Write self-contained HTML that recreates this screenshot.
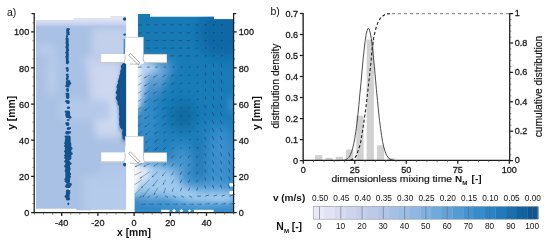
<!DOCTYPE html>
<html lang="en"><head><meta charset="utf-8"><title>Mixing figure</title>
<style>html,body{margin:0;padding:0;background:#fff;}body{width:550px;height:243px;overflow:hidden;}svg{display:block;}text{font-family:"Liberation Sans",Arial,sans-serif;fill:#111;}</style>
</head><body>
<svg width="550" height="243" viewBox="0 0 550 243">
<defs>
<filter id="b1" x="-20%" y="-20%" width="140%" height="140%"><feGaussianBlur stdDeviation="1"/></filter>
<filter id="b2" x="-30%" y="-30%" width="160%" height="160%"><feGaussianBlur stdDeviation="2"/></filter>
<filter id="b3" x="-30%" y="-30%" width="160%" height="160%"><feGaussianBlur stdDeviation="3.5"/></filter>
<filter id="b6" x="-40%" y="-40%" width="180%" height="180%"><feGaussianBlur stdDeviation="6"/></filter>
<clipPath id="cl"><path d="M36 20.3H74V18.6H110V16.3H126.2V209.6H91V210.2H76.4V208.7H36Z"/></clipPath>
<clipPath id="cr"><path d="M137.8 13.9H150V16.7H214V19.3H233.5V213H134.4V163H137.8Z"/></clipPath>
<linearGradient id="cb" x1="0" y1="0" x2="1" y2="0">
<stop offset="0" stop-color="#ececf8"/>
<stop offset="0.1" stop-color="#d8daf0"/>
<stop offset="0.2" stop-color="#c6cdea"/>
<stop offset="0.3" stop-color="#b2c4e6"/>
<stop offset="0.4" stop-color="#9cbde4"/>
<stop offset="0.5" stop-color="#7fb0de"/>
<stop offset="0.6" stop-color="#5ea1d6"/>
<stop offset="0.7" stop-color="#3f90ce"/>
<stop offset="0.8" stop-color="#2581c4"/>
<stop offset="0.9" stop-color="#146aa8"/>
<stop offset="1" stop-color="#0a4f86"/>
</linearGradient>
<linearGradient id="tg" gradientUnits="userSpaceOnUse" x1="0" y1="16" x2="0" y2="28"><stop offset="0" stop-color="#ececf8"/><stop offset="0.35" stop-color="#dcdff3"/><stop offset="0.75" stop-color="#c2cfeb"/><stop offset="1" stop-color="#a9c1e4" stop-opacity="0"/></linearGradient>
<linearGradient id="rg" x1="0" y1="0" x2="0" y2="1"><stop offset="0" stop-color="#167ab5"/><stop offset="0.5" stop-color="#187cb8"/><stop offset="0.75" stop-color="#2986c4"/><stop offset="1" stop-color="#358ecb"/></linearGradient>
</defs>
<rect width="550" height="243" fill="#fff"/>
<g clip-path="url(#cl)">
<rect x="30" y="10" width="100" height="205" fill="#a9c1e4"/>
<g filter="url(#b3)">
<path d="M84 56 L118 60 L116 100 L108 128 L96 120 L90 90Z" fill="#c4d0ec"/><path d="M88 64 L122 64 L120 100 L121 138 L96 138 L90 104Z" fill="#c8d3ed"/><path d="M94 68 L118 68 L116 100 L118 132 L100 132 L96 104Z" fill="#cdd7ef"/><rect x="92" y="28" width="36" height="28" fill="#c2d0ec"/>
<ellipse cx="111" cy="112" rx="8" ry="13" fill="#cfdbf2"/>
<ellipse cx="52" cy="75" rx="7" ry="22" fill="#b6cae9"/>
<ellipse cx="46" cy="50" rx="10" ry="6" fill="#b8cceb"/>
<rect x="84" y="176" width="50" height="40" fill="#b5cbeb"/>
<rect x="100" y="165" width="30" height="20" fill="#b2c9ea"/>
<rect x="60" y="100" width="50" height="20" fill="#b4c9ea"/>
</g>
<rect x="30" y="10" width="100" height="18" fill="url(#tg)"/>
<g filter="url(#b1)" fill="#6a9cd0" opacity="0.7">
<path d="M126.4 62 L121.5 64 L120 74 L116.6 86 L115.8 100 L118 110 L118.8 130 L121.5 133 L121.5 142 L126.4 143Z"/>
</g>
<g fill="#13528c">
<path d="M126.4 62 L123.7 63 L121.89999999999999 66 L121.89999999999999 70 L120.7 73 L120.5 76 L119.1 79 L119.3 82 L117.7 85 L117.89999999999999 88 L117.1 91 L117.7 94 L117.1 97 L117.5 100 L119.0 104 L119.8 108 L119.8 112 L120.0 116 L119.8 120 L120.0 124 L120.39999999999999 127 L123.39999999999999 129.5 L123.0 131 L122.8 134 L123.2 137 L125.2 140 L126.4 141Z" stroke="#13528c" stroke-width="1.2" stroke-linejoin="round"/>
<circle cx="122.3" cy="66.5" r="1.5"/>
<circle cx="121.89999999999999" cy="71" r="1.7"/>
<circle cx="120.89999999999999" cy="76" r="1.8"/>
<circle cx="119.7" cy="81.5" r="2.0"/>
<circle cx="118.5" cy="87" r="2.1"/>
<circle cx="117.89999999999999" cy="92.5" r="2.2"/>
<circle cx="117.89999999999999" cy="98" r="2.2"/>
<circle cx="119.39999999999999" cy="103.5" r="2.0"/>
<circle cx="120.39999999999999" cy="109" r="1.6"/>
<circle cx="120.39999999999999" cy="114" r="1.6"/>
<circle cx="120.6" cy="119" r="1.6"/>
<circle cx="120.8" cy="124" r="1.6"/>
<circle cx="122.3" cy="128" r="1.3"/>
<circle cx="123.8" cy="133.5" r="1.9"/>
<circle cx="124.2" cy="138" r="1.7"/>
<circle cx="124.6" cy="19" r="1.7"/><circle cx="124.6" cy="34.6" r="1.2"/><ellipse cx="124.6" cy="164.6" rx="1.5" ry="1.9"/>
<rect x="123.7" y="39" width="1.2" height="15" fill="#3d7bb9"/>
</g>
<g fill="#13528c">
<rect x="66.3" y="28.0" width="2.8" height="7.5" rx="1.4"/>
<circle cx="69.0" cy="29.2" r="0.9"/>
<circle cx="68.9" cy="32.2" r="0.8"/>
<circle cx="69.0" cy="34.3" r="0.9"/>
<rect x="65.9" y="35.0" width="1.8" height="3.0" rx="0.9"/>
<circle cx="67.4" cy="36.2" r="0.7"/>
<rect x="65.9" y="37.5" width="2.8" height="27.0" rx="1.4"/>
<circle cx="66.1" cy="38.7" r="0.8"/>
<circle cx="66.4" cy="41.2" r="0.8"/>
<circle cx="66.0" cy="43.1" r="0.7"/>
<circle cx="68.5" cy="45.0" r="0.7"/>
<circle cx="66.2" cy="47.1" r="0.9"/>
<circle cx="68.3" cy="49.9" r="0.9"/>
<circle cx="66.1" cy="52.6" r="0.9"/>
<circle cx="68.4" cy="54.8" r="0.6"/>
<circle cx="66.1" cy="56.8" r="0.9"/>
<circle cx="66.5" cy="60.1" r="0.7"/>
<circle cx="68.3" cy="62.0" r="1.0"/>
<rect x="66.3" y="67.0" width="2.2" height="5.0" rx="1.1"/>
<circle cx="66.5" cy="68.2" r="0.9"/>
<circle cx="68.1" cy="70.1" r="0.6"/>
<rect x="66.3" y="73.5" width="2.2" height="6.5" rx="1.1"/>
<circle cx="66.4" cy="74.7" r="0.7"/>
<circle cx="68.2" cy="76.6" r="0.7"/>
<circle cx="66.8" cy="79.1" r="1.0"/>
<rect x="65.9" y="80.0" width="3.8" height="7.5" rx="1.6"/>
<circle cx="69.4" cy="81.2" r="1.0"/>
<circle cx="69.7" cy="83.3" r="1.5"/>
<circle cx="66.1" cy="86.1" r="1.0"/>
<rect x="66.3" y="88.0" width="2.6" height="4.0" rx="1.3"/>
<circle cx="66.4" cy="89.2" r="0.6"/>
<rect x="66.1" y="92.5" width="3.2" height="6.5" rx="1.6"/>
<circle cx="66.3" cy="93.7" r="0.9"/>
<circle cx="66.2" cy="96.0" r="0.6"/>
<rect x="66.3" y="100.0" width="3.4" height="4.0" rx="1.6"/>
<circle cx="66.5" cy="101.2" r="1.3"/>
<rect x="66.8" y="106.5" width="2.9" height="2.5" rx="1.4"/>
<circle cx="69.2" cy="107.7" r="0.9"/>
<rect x="65.7" y="110.5" width="4.4" height="7.5" rx="1.6"/>
<circle cx="65.8" cy="111.7" r="1.1"/>
<circle cx="66.1" cy="114.5" r="1.0"/>
<circle cx="69.9" cy="117.2" r="1.5"/>
<rect x="66.8" y="119.0" width="2.9" height="2.0" rx="1.4"/>
<rect x="65.9" y="122.0" width="3.4" height="4.0" rx="1.6"/>
<circle cx="66.2" cy="123.2" r="1.0"/>
<rect x="66.7" y="127.0" width="3.4" height="3.0" rx="1.6"/>
<circle cx="70.0" cy="128.2" r="1.1"/>
<rect x="65.3" y="131.0" width="4.4" height="3.5" rx="1.6"/>
<circle cx="69.7" cy="132.2" r="1.3"/>
<rect x="65.3" y="135.5" width="5.4" height="8.5" rx="1.6"/>
<circle cx="65.6" cy="136.7" r="1.1"/>
<circle cx="65.9" cy="139.9" r="1.1"/>
<circle cx="65.5" cy="142.0" r="0.9"/>
<rect x="64.9" y="142.0" width="6.4" height="18.0" rx="1.6"/>
<circle cx="65.1" cy="143.2" r="1.0"/>
<circle cx="65.0" cy="145.9" r="1.0"/>
<circle cx="71.1" cy="148.4" r="1.4"/>
<circle cx="65.5" cy="151.2" r="1.3"/>
<circle cx="71.3" cy="153.7" r="1.4"/>
<circle cx="65.3" cy="155.6" r="1.2"/>
<circle cx="65.2" cy="157.9" r="1.0"/>
<rect x="65.3" y="160.0" width="4.8" height="23.0" rx="1.6"/>
<circle cx="65.8" cy="161.2" r="1.5"/>
<circle cx="70.0" cy="163.6" r="1.5"/>
<circle cx="65.6" cy="166.0" r="1.5"/>
<circle cx="69.5" cy="168.8" r="1.2"/>
<circle cx="65.9" cy="170.7" r="1.3"/>
<circle cx="69.9" cy="174.0" r="1.2"/>
<circle cx="69.8" cy="176.7" r="1.2"/>
<circle cx="65.4" cy="179.3" r="1.1"/>
<circle cx="65.7" cy="181.1" r="1.2"/>
<rect x="65.9" y="183.0" width="4.8" height="5.0" rx="1.6"/>
<circle cx="70.3" cy="184.2" r="1.5"/>
<circle cx="66.4" cy="186.2" r="1.3"/>
<rect x="65.9" y="189.5" width="3.8" height="11.0" rx="1.6"/>
<circle cx="69.2" cy="190.7" r="1.2"/>
<circle cx="69.4" cy="193.1" r="1.0"/>
<circle cx="66.1" cy="196.2" r="1.5"/>
<circle cx="69.2" cy="199.0" r="1.0"/>
<rect x="67.7" y="202.6" width="1.4" height="2.4" rx="0.7"/>
<circle cx="68.3" cy="203.8" r="0.9"/>
</g>
<rect x="69" y="188" width="1.2" height="2.2" fill="#dfe8f7"/>
</g>
<g clip-path="url(#cr)">
<rect x="130" y="10" width="105" height="205" fill="url(#rg)"/>
<g filter="url(#b6)">
<ellipse cx="183" cy="116" rx="12" ry="15" fill="#106a9e"/>
<ellipse cx="183" cy="116" rx="9" ry="10" fill="#106ba2"/>
<ellipse cx="182" cy="165" rx="9" ry="18" fill="#4698d2"/>
<ellipse cx="222" cy="34" rx="24" ry="24" fill="#0c68a4"/>
<ellipse cx="220" cy="160" rx="13" ry="34" fill="#3a90ce"/>
<ellipse cx="198" cy="158" rx="3" ry="26" fill="#106ca6"/>
<path d="M134 62 L174 62 L162 86 L150 108 L134 128Z" fill="#6fa9dc"/>
<ellipse cx="137" cy="88" rx="8" ry="24" fill="#cfe2f6"/>
<ellipse cx="146" cy="112" rx="11" ry="40" fill="#368cca"/>
<ellipse cx="152" cy="180" rx="27" ry="17" fill="#9cc8ec"/>
<ellipse cx="200" cy="195" rx="40" ry="10" fill="#67a8de"/>
<ellipse cx="148" cy="205" rx="14" ry="5" fill="#2f86c8"/>
</g>
<g filter="url(#b3)">
<path d="M130 164 L150 165 C166 174 180 186 200 192 L234 193 L234 202 L196 202 C176 200 158 190 130 185Z" fill="#9ecaee"/>
<ellipse cx="139" cy="173" rx="10" ry="9" fill="#e3edfa"/>
<path d="M132 60 L150 60 L147 80 L143 100 L132 118Z" fill="#bfd8f2" opacity="0.7"/>
<rect x="131" y="164" width="5.5" height="30" fill="#eef3fc"/>
<ellipse cx="222" cy="198" rx="12" ry="3" fill="#aed2f1"/>
<ellipse cx="146" cy="68" rx="12" ry="5" fill="#bcd6f1"/>
<ellipse cx="232" cy="105" rx="3" ry="8" fill="#4c98d6"/>
</g>
<g filter="url(#b2)"><path d="M128 58 L140.5 58 L140.5 78 L139.5 96 L138 108 L128 110Z" fill="#ffffff" opacity="0.75"/><path d="M126 162 L137.5 162 L136.5 184 L135 194 L126 196Z" fill="#ffffff" opacity="0.85"/></g>
<g fill="#fff"><rect x="161.3" y="209.8" width="8.3" height="3"/><rect x="194" y="209.8" width="19.6" height="3"/>
<path d="M174 208.9l2 1.9-2 1.9-2-1.9zM181.3 208.9l2 1.9-2 1.9-2-1.9zM189.5 209.3l1.5 1.5-1.5 1.5-1.5-1.5z"/>
<rect x="229.3" y="183.3" width="5" height="3.1" rx="0.8"/><rect x="229.3" y="191" width="5" height="3.1" rx="0.8"/></g>
<g stroke="#263a50" stroke-width="0.5" fill="#263a50" stroke-linecap="round" opacity="0.78">
<path d="M141.4 24.8L138.8 25.3" fill="none" stroke-width="0.75"/>
<path d="M141.4 32.8L138.8 33.3" fill="none" stroke-width="0.75"/>
<path d="M141.4 67.0L138.4 67.2" fill="none" stroke-width="0.75"/>
<path d="M141.4 75.1L134.5 78.9" fill="none"/>
<path d="M134.5 78.9L135.6 77.3L136.4 78.8Z" stroke="none"/>
<path d="M141.4 83.1L134.6 87.1" fill="none"/>
<path d="M134.6 87.1L135.6 85.5L136.5 87.0Z" stroke="none"/>
<path d="M141.4 91.2L134.7 95.3" fill="none"/>
<path d="M134.7 95.3L135.7 93.7L136.6 95.1Z" stroke="none"/>
<path d="M141.4 99.3L134.8 103.5" fill="none"/>
<path d="M134.8 103.5L135.7 101.9L136.6 103.3Z" stroke="none"/>
<path d="M141.4 107.3L134.9 111.8" fill="none"/>
<path d="M134.9 111.8L135.8 110.1L136.7 111.5Z" stroke="none"/>
<path d="M141.4 115.4L135.0 120.0" fill="none"/>
<path d="M135.0 120.0L135.9 118.3L136.8 119.7Z" stroke="none"/>
<path d="M141.4 123.5L135.1 128.2" fill="none"/>
<path d="M135.1 128.2L135.9 126.5L136.9 127.8Z" stroke="none"/>
<path d="M141.4 131.6L136.4 135.4" fill="none"/>
<path d="M136.4 135.4L137.2 133.8L138.2 135.1Z" stroke="none"/>
<path d="M141.4 163.8L134.9 166.9" fill="none"/>
<path d="M134.9 166.9L136.1 165.4L136.8 166.9Z" stroke="none"/>
<path d="M141.4 171.9L129.7 177.5" fill="none"/>
<path d="M129.7 177.5L130.8 176.0L131.6 177.5Z" stroke="none"/>
<path d="M141.4 180.0L130.8 187.5" fill="none"/>
<path d="M130.8 187.5L131.7 185.8L132.6 187.2Z" stroke="none"/>
<path d="M141.4 188.1L132.2 197.2" fill="none"/>
<path d="M132.2 197.2L132.8 195.4L134.0 196.6Z" stroke="none"/>
<path d="M141.4 196.1L139.8 197.7" fill="none" stroke-width="0.75"/>
<path d="M141.4 204.2L145.0 204.2" fill="none"/>
<path d="M145.0 204.2L144.1 204.7L144.1 203.6Z" stroke="none"/>
<path d="M149.4 24.8L146.8 24.9" fill="none" stroke-width="0.75"/>
<path d="M149.4 32.8L146.8 32.9" fill="none" stroke-width="0.75"/>
<path d="M149.4 40.5L146.8 40.6" fill="none" stroke-width="0.75"/>
<path d="M149.4 48.0L146.8 48.1" fill="none" stroke-width="0.75"/>
<path d="M149.4 67.0L147.2 67.2" fill="none" stroke-width="0.75"/>
<path d="M149.4 75.1L144.3 77.9" fill="none"/>
<path d="M144.3 77.9L145.3 76.5L146.0 77.8Z" stroke="none"/>
<path d="M149.4 83.1L144.4 86.1" fill="none"/>
<path d="M144.4 86.1L145.3 84.6L146.1 86.0Z" stroke="none"/>
<path d="M149.4 91.2L144.4 94.3" fill="none"/>
<path d="M144.4 94.3L145.3 92.8L146.1 94.1Z" stroke="none"/>
<path d="M149.4 99.3L144.5 102.4" fill="none"/>
<path d="M144.5 102.4L145.4 101.0L146.2 102.3Z" stroke="none"/>
<path d="M149.4 107.3L144.6 110.6" fill="none"/>
<path d="M144.6 110.6L145.4 109.1L146.3 110.4Z" stroke="none"/>
<path d="M149.4 115.4L144.6 118.8" fill="none"/>
<path d="M144.6 118.8L145.4 117.3L146.3 118.5Z" stroke="none"/>
<path d="M149.4 123.5L144.7 127.0" fill="none"/>
<path d="M144.7 127.0L145.5 125.5L146.4 126.7Z" stroke="none"/>
<path d="M149.4 131.6L145.7 134.4" fill="none"/>
<path d="M145.7 134.4L146.3 133.2L147.1 134.2Z" stroke="none"/>
<path d="M149.4 139.6L145.8 142.6" fill="none"/>
<path d="M145.8 142.6L146.3 141.3L147.2 142.3Z" stroke="none"/>
<path d="M149.4 147.7L145.9 150.7" fill="none"/>
<path d="M145.9 150.7L146.4 149.4L147.2 150.4Z" stroke="none"/>
<path d="M149.4 163.8L143.8 166.5" fill="none"/>
<path d="M143.8 166.5L144.9 165.1L145.6 166.5Z" stroke="none"/>
<path d="M149.4 171.9L140.1 178.3" fill="none"/>
<path d="M140.1 178.3L141.1 176.6L142.0 178.0Z" stroke="none"/>
<path d="M149.4 180.0L141.3 187.8" fill="none"/>
<path d="M141.3 187.8L142.0 186.0L143.1 187.2Z" stroke="none"/>
<path d="M149.4 188.1L142.8 197.1" fill="none"/>
<path d="M142.8 197.1L143.1 195.3L144.4 196.3Z" stroke="none"/>
<path d="M149.4 196.1L147.8 197.7" fill="none" stroke-width="0.75"/>
<path d="M149.4 204.2L153.0 204.2" fill="none"/>
<path d="M153.0 204.2L152.1 204.7L152.1 203.6Z" stroke="none"/>
<path d="M157.5 24.8L154.9 24.9" fill="none" stroke-width="0.75"/>
<path d="M157.5 32.8L154.9 32.9" fill="none" stroke-width="0.75"/>
<path d="M157.5 40.5L154.9 40.6" fill="none" stroke-width="0.75"/>
<path d="M157.5 48.0L154.9 48.1" fill="none" stroke-width="0.75"/>
<path d="M157.5 67.0L155.7 67.2" fill="none" stroke-width="0.75"/>
<path d="M157.5 75.1L153.6 77.2" fill="none"/>
<path d="M153.6 77.2L154.3 76.1L154.9 77.2Z" stroke="none"/>
<path d="M157.5 83.1L153.7 85.3" fill="none"/>
<path d="M153.7 85.3L154.4 84.2L155.0 85.3Z" stroke="none"/>
<path d="M157.5 91.2L153.7 93.5" fill="none"/>
<path d="M153.7 93.5L154.4 92.4L155.0 93.4Z" stroke="none"/>
<path d="M157.5 99.3L153.8 101.6" fill="none"/>
<path d="M153.8 101.6L154.4 100.5L155.1 101.5Z" stroke="none"/>
<path d="M157.5 107.3L153.9 109.8" fill="none"/>
<path d="M153.9 109.8L154.4 108.6L155.1 109.7Z" stroke="none"/>
<path d="M157.5 115.4L153.9 117.9" fill="none"/>
<path d="M153.9 117.9L154.5 116.8L155.2 117.8Z" stroke="none"/>
<path d="M157.5 123.5L154.0 126.1" fill="none"/>
<path d="M154.0 126.1L154.5 124.9L155.2 125.9Z" stroke="none"/>
<path d="M157.5 131.6L154.7 133.7" fill="none" stroke-width="0.75"/>
<path d="M154.7 133.7L155.1 132.7L155.8 133.6Z" stroke="none"/>
<path d="M157.5 139.6L154.8 141.8" fill="none" stroke-width="0.75"/>
<path d="M154.8 141.8L155.1 140.8L155.8 141.7Z" stroke="none"/>
<path d="M157.5 147.7L154.8 150.0" fill="none" stroke-width="0.75"/>
<path d="M154.8 150.0L155.1 149.0L155.9 149.8Z" stroke="none"/>
<path d="M157.5 163.8L153.9 166.2" fill="none"/>
<path d="M153.9 166.2L154.5 165.1L155.2 166.1Z" stroke="none"/>
<path d="M157.5 171.9L151.9 177.2" fill="none"/>
<path d="M151.9 177.2L152.5 175.4L153.7 176.6Z" stroke="none"/>
<path d="M157.5 180.0L152.8 186.1" fill="none"/>
<path d="M152.8 186.1L153.2 184.3L154.5 185.3Z" stroke="none"/>
<path d="M157.5 188.1L153.9 194.9" fill="none"/>
<path d="M153.9 194.9L154.0 193.0L155.4 193.7Z" stroke="none"/>
<path d="M157.5 196.1L155.9 197.7" fill="none" stroke-width="0.75"/>
<path d="M157.5 204.2L161.1 204.2" fill="none"/>
<path d="M161.1 204.2L160.1 204.7L160.1 203.6Z" stroke="none"/>
<path d="M165.5 24.8L162.9 24.9" fill="none" stroke-width="0.75"/>
<path d="M165.5 32.8L162.9 32.9" fill="none" stroke-width="0.75"/>
<path d="M165.5 40.5L162.9 40.6" fill="none" stroke-width="0.75"/>
<path d="M165.5 48.0L162.9 48.1" fill="none" stroke-width="0.75"/>
<path d="M165.5 67.0L164.2 67.2" fill="none" stroke-width="0.75"/>
<path d="M165.5 75.1L162.7 76.6" fill="none" stroke-width="0.75"/>
<path d="M165.5 83.1L162.7 84.8" fill="none" stroke-width="0.75"/>
<path d="M165.5 91.2L162.7 92.9" fill="none" stroke-width="0.75"/>
<path d="M165.5 99.3L162.8 101.0" fill="none" stroke-width="0.75"/>
<path d="M165.5 107.3L162.8 109.2" fill="none" stroke-width="0.75"/>
<path d="M165.5 115.4L162.9 117.3" fill="none" stroke-width="0.75"/>
<path d="M165.5 123.5L162.9 125.4" fill="none" stroke-width="0.75"/>
<path d="M165.5 131.6L163.4 133.1" fill="none" stroke-width="0.75"/>
<path d="M165.5 139.6L163.5 141.3" fill="none" stroke-width="0.75"/>
<path d="M165.5 147.7L163.5 149.4" fill="none" stroke-width="0.75"/>
<path d="M165.5 163.8L163.4 165.8" fill="none" stroke-width="0.75"/>
<path d="M165.5 171.9L162.3 176.0" fill="none"/>
<path d="M162.3 176.0L162.5 174.5L163.7 175.4Z" stroke="none"/>
<path d="M165.5 180.0L163.0 184.6" fill="none"/>
<path d="M163.0 184.6L163.0 183.1L164.3 183.7Z" stroke="none"/>
<path d="M165.5 188.1L163.8 193.0" fill="none"/>
<path d="M163.8 193.0L163.6 191.5L164.9 192.0Z" stroke="none"/>
<path d="M165.5 196.1L167.7 197.3" fill="none" stroke-width="0.75"/>
<path d="M165.5 204.2L169.1 204.2" fill="none"/>
<path d="M169.1 204.2L168.2 204.7L168.2 203.6Z" stroke="none"/>
<path d="M173.5 24.8L170.9 24.9" fill="none" stroke-width="0.75"/>
<path d="M173.5 32.8L170.9 32.9" fill="none" stroke-width="0.75"/>
<path d="M173.5 40.5L170.9 40.6" fill="none" stroke-width="0.75"/>
<path d="M173.5 48.0L170.9 48.1" fill="none" stroke-width="0.75"/>
<path d="M173.5 55.8L170.9 55.9" fill="none" stroke-width="0.75"/>
<circle cx="173.5" cy="67.0" r="0.7" stroke="none"/>
<path d="M173.5 75.1L171.4 76.2" fill="none" stroke-width="0.75"/>
<path d="M173.5 83.1L171.4 84.3" fill="none" stroke-width="0.75"/>
<path d="M173.5 91.2L171.5 92.5" fill="none" stroke-width="0.75"/>
<path d="M173.5 99.3L171.5 100.6" fill="none" stroke-width="0.75"/>
<path d="M173.5 107.3L171.5 108.7" fill="none" stroke-width="0.75"/>
<path d="M173.5 115.4L171.6 116.8" fill="none" stroke-width="0.75"/>
<path d="M173.5 123.5L171.6 124.9" fill="none" stroke-width="0.75"/>
<path d="M173.5 131.6L172.0 132.7" fill="none" stroke-width="0.75"/>
<path d="M173.5 139.6L172.0 140.8" fill="none" stroke-width="0.75"/>
<path d="M173.5 147.7L172.1 148.9" fill="none" stroke-width="0.75"/>
<path d="M173.5 155.8L171.8 158.0" fill="none" stroke-width="0.75"/>
<path d="M173.5 163.8L171.9 166.2" fill="none" stroke-width="0.75"/>
<path d="M173.5 171.9L171.6 175.1" fill="none"/>
<path d="M171.6 175.1L171.7 174.0L172.6 174.5Z" stroke="none"/>
<path d="M173.5 180.0L171.9 183.3" fill="none"/>
<path d="M171.9 183.3L171.8 182.2L172.8 182.7Z" stroke="none"/>
<path d="M173.5 188.1L172.2 191.4" fill="none"/>
<path d="M172.2 191.4L172.0 190.3L173.1 190.7Z" stroke="none"/>
<path d="M173.5 196.1L175.7 197.3" fill="none" stroke-width="0.75"/>
<path d="M173.5 204.2L177.1 204.2" fill="none"/>
<path d="M177.1 204.2L176.2 204.7L176.2 203.6Z" stroke="none"/>
<path d="M181.6 24.8L179.0 24.9" fill="none" stroke-width="0.75"/>
<path d="M181.6 32.8L179.0 32.9" fill="none" stroke-width="0.75"/>
<path d="M181.6 40.5L179.0 40.6" fill="none" stroke-width="0.75"/>
<path d="M181.6 48.0L179.0 48.1" fill="none" stroke-width="0.75"/>
<path d="M181.6 55.8L179.0 55.9" fill="none" stroke-width="0.75"/>
<circle cx="181.6" cy="67.0" r="0.7" stroke="none"/>
<path d="M181.6 75.1L180.0 75.9" fill="none" stroke-width="0.75"/>
<path d="M181.6 83.1L180.0 84.0" fill="none" stroke-width="0.75"/>
<path d="M181.6 91.2L180.0 92.1" fill="none" stroke-width="0.75"/>
<path d="M181.6 99.3L180.1 100.2" fill="none" stroke-width="0.75"/>
<path d="M181.6 107.3L180.1 108.3" fill="none" stroke-width="0.75"/>
<path d="M181.6 115.4L180.1 116.4" fill="none" stroke-width="0.75"/>
<path d="M181.6 123.5L180.1 124.6" fill="none" stroke-width="0.75"/>
<path d="M181.6 131.6L180.4 132.4" fill="none" stroke-width="0.75"/>
<path d="M181.6 139.6L180.4 140.5" fill="none" stroke-width="0.75"/>
<path d="M181.6 147.7L180.5 148.6" fill="none" stroke-width="0.75"/>
<path d="M181.6 155.8L180.1 157.9" fill="none" stroke-width="0.75"/>
<path d="M181.6 163.8L180.2 166.0" fill="none" stroke-width="0.75"/>
<path d="M181.6 171.9L180.1 174.7" fill="none" stroke-width="0.75"/>
<path d="M181.6 180.0L180.3 182.8" fill="none" stroke-width="0.75"/>
<path d="M181.6 188.1L180.5 190.9" fill="none" stroke-width="0.75"/>
<path d="M181.6 196.1L183.8 197.3" fill="none" stroke-width="0.75"/>
<path d="M181.6 204.2L185.2 204.2" fill="none"/>
<path d="M185.2 204.2L184.2 204.7L184.2 203.6Z" stroke="none"/>
<path d="M189.6 24.8L187.0 24.9" fill="none" stroke-width="0.75"/>
<path d="M189.6 32.8L187.0 32.9" fill="none" stroke-width="0.75"/>
<path d="M189.6 40.5L187.0 40.6" fill="none" stroke-width="0.75"/>
<path d="M189.6 48.0L187.0 48.1" fill="none" stroke-width="0.75"/>
<path d="M189.6 55.8L187.0 55.9" fill="none" stroke-width="0.75"/>
<circle cx="189.6" cy="67.0" r="0.7" stroke="none"/>
<path d="M189.6 75.1L188.4 75.7" fill="none" stroke-width="0.75"/>
<path d="M189.6 83.1L188.4 83.8" fill="none" stroke-width="0.75"/>
<path d="M189.6 91.2L188.5 91.9" fill="none" stroke-width="0.75"/>
<path d="M189.6 99.3L188.5 100.0" fill="none" stroke-width="0.75"/>
<path d="M189.6 107.3L188.5 108.1" fill="none" stroke-width="0.75"/>
<path d="M189.6 115.4L188.5 116.2" fill="none" stroke-width="0.75"/>
<path d="M189.6 123.5L188.5 124.3" fill="none" stroke-width="0.75"/>
<circle cx="189.6" cy="131.6" r="0.7" stroke="none"/>
<circle cx="189.6" cy="139.6" r="0.7" stroke="none"/>
<circle cx="189.6" cy="147.7" r="0.7" stroke="none"/>
<path d="M189.6 155.8L188.3 157.8" fill="none" stroke-width="0.75"/>
<path d="M189.6 163.8L188.4 165.9" fill="none" stroke-width="0.75"/>
<path d="M189.6 171.9L188.4 174.3" fill="none" stroke-width="0.75"/>
<path d="M189.6 180.0L188.6 182.4" fill="none" stroke-width="0.75"/>
<path d="M189.6 188.1L188.7 190.5" fill="none" stroke-width="0.75"/>
<path d="M189.6 196.1L191.8 197.3" fill="none" stroke-width="0.75"/>
<path d="M189.6 204.2L193.2 204.2" fill="none"/>
<path d="M193.2 204.2L192.2 204.7L192.2 203.6Z" stroke="none"/>
<path d="M197.6 24.8L196.0 24.9" fill="none" stroke-width="0.75"/>
<path d="M197.6 32.8L196.0 32.9" fill="none" stroke-width="0.75"/>
<path d="M197.6 40.5L196.0 40.6" fill="none" stroke-width="0.75"/>
<path d="M197.6 48.0L196.0 48.1" fill="none" stroke-width="0.75"/>
<path d="M197.6 55.8L196.0 55.9" fill="none" stroke-width="0.75"/>
<circle cx="197.6" cy="67.0" r="0.7" stroke="none"/>
<circle cx="197.6" cy="75.1" r="0.7" stroke="none"/>
<circle cx="197.6" cy="83.1" r="0.7" stroke="none"/>
<circle cx="197.6" cy="91.2" r="0.7" stroke="none"/>
<circle cx="197.6" cy="99.3" r="0.7" stroke="none"/>
<circle cx="197.6" cy="107.3" r="0.7" stroke="none"/>
<circle cx="197.6" cy="115.4" r="0.7" stroke="none"/>
<circle cx="197.6" cy="123.5" r="0.7" stroke="none"/>
<circle cx="197.6" cy="131.6" r="0.7" stroke="none"/>
<circle cx="197.6" cy="139.6" r="0.7" stroke="none"/>
<circle cx="197.6" cy="147.7" r="0.7" stroke="none"/>
<path d="M197.6 155.8L196.5 157.7" fill="none" stroke-width="0.75"/>
<path d="M197.6 163.8L196.5 165.7" fill="none" stroke-width="0.75"/>
<path d="M197.6 171.9L196.6 174.1" fill="none" stroke-width="0.75"/>
<path d="M197.6 180.0L196.7 182.1" fill="none" stroke-width="0.75"/>
<path d="M197.6 188.1L196.8 190.2" fill="none" stroke-width="0.75"/>
<path d="M197.6 196.1L200.6 196.1" fill="none" stroke-width="0.75"/>
<path d="M197.6 204.2L201.2 204.2" fill="none"/>
<path d="M201.2 204.2L200.3 204.7L200.3 203.6Z" stroke="none"/>
<circle cx="205.6" cy="24.8" r="0.7" stroke="none"/>
<circle cx="205.6" cy="32.8" r="0.7" stroke="none"/>
<circle cx="205.6" cy="40.5" r="0.7" stroke="none"/>
<circle cx="205.6" cy="48.0" r="0.7" stroke="none"/>
<circle cx="205.6" cy="55.8" r="0.7" stroke="none"/>
<path d="M205.6 67.0L205.4 64.8" fill="none" stroke-width="0.75"/>
<path d="M205.6 75.1L205.4 72.9" fill="none" stroke-width="0.75"/>
<path d="M205.6 83.1L205.4 80.9" fill="none" stroke-width="0.75"/>
<path d="M205.6 91.2L205.4 89.0" fill="none" stroke-width="0.75"/>
<path d="M205.6 99.3L205.4 97.1" fill="none" stroke-width="0.75"/>
<path d="M205.6 107.3L204.7 105.1" fill="none" stroke-width="0.75"/>
<path d="M205.6 115.4L204.7 113.2" fill="none" stroke-width="0.75"/>
<path d="M205.6 123.5L204.7 121.3" fill="none" stroke-width="0.75"/>
<path d="M205.6 131.6L204.7 129.3" fill="none" stroke-width="0.75"/>
<path d="M205.6 139.6L204.7 137.4" fill="none" stroke-width="0.75"/>
<path d="M205.6 147.7L204.7 145.5" fill="none" stroke-width="0.75"/>
<path d="M205.6 155.8L204.8 153.6" fill="none" stroke-width="0.75"/>
<path d="M205.6 163.8L204.8 161.6" fill="none" stroke-width="0.75"/>
<path d="M205.6 171.9L204.8 169.7" fill="none" stroke-width="0.75"/>
<path d="M205.6 180.0L204.8 177.8" fill="none" stroke-width="0.75"/>
<path d="M205.6 188.1L204.8 185.8" fill="none" stroke-width="0.75"/>
<path d="M205.6 196.1L208.6 195.1" fill="none" stroke-width="0.75"/>
<path d="M205.6 204.2L209.2 203.7" fill="none"/>
<path d="M209.2 203.7L208.4 204.4L208.2 203.3Z" stroke="none"/>
<circle cx="213.7" cy="24.8" r="0.7" stroke="none"/>
<circle cx="213.7" cy="32.8" r="0.7" stroke="none"/>
<circle cx="213.7" cy="40.5" r="0.7" stroke="none"/>
<circle cx="213.7" cy="48.0" r="0.7" stroke="none"/>
<circle cx="213.7" cy="55.8" r="0.7" stroke="none"/>
<path d="M213.7 67.0L213.3 64.1" fill="none" stroke-width="0.75"/>
<path d="M213.7 75.1L213.3 72.2" fill="none" stroke-width="0.75"/>
<path d="M213.7 83.1L213.3 80.2" fill="none" stroke-width="0.75"/>
<path d="M213.7 91.2L213.3 88.3" fill="none" stroke-width="0.75"/>
<path d="M213.7 99.3L213.3 96.4" fill="none" stroke-width="0.75"/>
<path d="M213.7 107.3L212.5 104.4" fill="none" stroke-width="0.75"/>
<path d="M213.7 115.4L212.5 112.5" fill="none" stroke-width="0.75"/>
<path d="M213.7 123.5L212.5 120.6" fill="none" stroke-width="0.75"/>
<path d="M213.7 131.6L212.5 128.7" fill="none" stroke-width="0.75"/>
<path d="M213.7 139.6L212.5 136.7" fill="none" stroke-width="0.75"/>
<path d="M213.7 147.7L212.5 144.8" fill="none" stroke-width="0.75"/>
<path d="M213.7 155.8L212.6 152.9" fill="none" stroke-width="0.75"/>
<path d="M213.7 163.8L212.6 160.9" fill="none" stroke-width="0.75"/>
<path d="M213.7 171.9L212.6 169.0" fill="none" stroke-width="0.75"/>
<path d="M213.7 180.0L212.6 177.1" fill="none" stroke-width="0.75"/>
<path d="M213.7 188.1L212.6 185.2" fill="none" stroke-width="0.75"/>
<path d="M213.7 196.1L216.7 195.1" fill="none" stroke-width="0.75"/>
<path d="M213.7 204.2L217.3 203.7" fill="none"/>
<path d="M217.3 203.7L216.4 204.4L216.3 203.3Z" stroke="none"/>
<circle cx="221.7" cy="24.8" r="0.7" stroke="none"/>
<circle cx="221.7" cy="32.8" r="0.7" stroke="none"/>
<circle cx="221.7" cy="40.5" r="0.7" stroke="none"/>
<circle cx="221.7" cy="48.0" r="0.7" stroke="none"/>
<circle cx="221.7" cy="55.8" r="0.7" stroke="none"/>
<path d="M221.7 67.0L221.3 64.1" fill="none" stroke-width="0.75"/>
<path d="M221.7 75.1L221.3 72.2" fill="none" stroke-width="0.75"/>
<path d="M221.7 83.1L221.3 80.2" fill="none" stroke-width="0.75"/>
<path d="M221.7 91.2L221.3 88.3" fill="none" stroke-width="0.75"/>
<path d="M221.7 99.3L221.3 96.4" fill="none" stroke-width="0.75"/>
<path d="M221.7 107.3L220.5 104.4" fill="none" stroke-width="0.75"/>
<path d="M221.7 115.4L220.5 112.5" fill="none" stroke-width="0.75"/>
<path d="M221.7 123.5L220.5 120.6" fill="none" stroke-width="0.75"/>
<path d="M221.7 131.6L220.5 128.7" fill="none" stroke-width="0.75"/>
<path d="M221.7 139.6L220.5 136.7" fill="none" stroke-width="0.75"/>
<path d="M221.7 147.7L220.5 144.8" fill="none" stroke-width="0.75"/>
<path d="M221.7 155.8L220.6 152.9" fill="none" stroke-width="0.75"/>
<path d="M221.7 163.8L220.6 160.9" fill="none" stroke-width="0.75"/>
<path d="M221.7 171.9L220.6 169.0" fill="none" stroke-width="0.75"/>
<path d="M221.7 180.0L220.6 177.1" fill="none" stroke-width="0.75"/>
<path d="M221.7 188.1L220.6 185.2" fill="none" stroke-width="0.75"/>
<path d="M221.7 196.1L224.7 195.1" fill="none" stroke-width="0.75"/>
<path d="M221.7 204.2L225.3 203.7" fill="none"/>
<path d="M225.3 203.7L224.4 204.4L224.3 203.3Z" stroke="none"/>
<path d="M229.7 155.8L228.7 152.9" fill="none" stroke-width="0.75"/>
<path d="M229.7 163.8L228.7 160.9" fill="none" stroke-width="0.75"/>
<path d="M229.7 171.9L228.7 169.0" fill="none" stroke-width="0.75"/>
<path d="M229.7 180.0L228.7 177.1" fill="none" stroke-width="0.75"/>
<path d="M229.7 188.1L228.7 185.2" fill="none" stroke-width="0.75"/>
<path d="M229.7 196.1L232.7 195.1" fill="none" stroke-width="0.75"/>
<path d="M229.7 204.2L233.3 203.7" fill="none"/>
<path d="M233.3 203.7L232.5 204.4L232.3 203.3Z" stroke="none"/>
</g>
</g>
<rect x="126.4" y="12" width="11.4" height="152" fill="#fff"/><rect x="126.4" y="160" width="8" height="53" fill="#fff"/>
<rect x="125.2" y="37" width="18.3" height="26.800000000000004" fill="#fff"/>
<rect x="101.2" y="54" width="65.6" height="9.100000000000001" fill="#fff"/>
<g stroke="#909090" stroke-width="0.55" fill="none">
<path d="M125.3 48 V37.3 H143.4 V55" stroke="#b8b8b8"/>
<path d="M101.2 62.6 H124.2 M124.8 54.5 Q126 58.3 124.2 62.6"/>
<path d="M143.8 54.2 H166.8 M144.2 62.6 H166.8 M143.8 54.2 Q142.4 58.3 144.2 62.6"/>
<path d="M130 64.1 H138.4"/>
<path d="M128.6 55.2 L130.4 53.5 L139.8 62.9 L138 64.6Z" fill="#fff" stroke="#6a6a6a" stroke-width="0.6"/>
</g>
<rect x="125.2" y="136.3" width="18.3" height="26.69999999999999" fill="#fff"/>
<rect x="101.2" y="152.4" width="65.6" height="9.900000000000006" fill="#fff"/>
<g stroke="#909090" stroke-width="0.55" fill="none">
<path d="M125.3 146.4 V136.60000000000002 H143.4 V153.4" stroke="#b8b8b8"/>
<path d="M101.2 161.8 H124.2 M124.8 152.9 Q126 157.10000000000002 124.2 161.8"/>
<path d="M143.8 152.6 H166.8 M144.2 161.8 H166.8 M143.8 152.6 Q142.4 157.10000000000002 144.2 161.8"/>
<path d="M130 163.3 H138.4"/>
<path d="M128.6 153.6 L130.4 151.9 L139.8 161.3 L138 163.0Z" fill="#fff" stroke="#6a6a6a" stroke-width="0.6"/>
</g>
<g stroke="#1c1c1c" stroke-width="1.25" fill="none">
<path d="M34.2 13.1V213.1M233.6 13.1V213.1M33.6 212.5H234.2"/>
<path d="M31.1 212.5H34.2M233.6 212.5h3.1"/>
<path d="M32.6 203.5H34.2M233.6 203.5h1.6" stroke-width="0.8" stroke="#555"/>
<path d="M32.6 194.4H34.2M233.6 194.4h1.6" stroke-width="0.8" stroke="#555"/>
<path d="M32.6 185.4H34.2M233.6 185.4h1.6" stroke-width="0.8" stroke="#555"/>
<path d="M31.1 176.4H34.2M233.6 176.4h3.1"/>
<path d="M32.6 167.3H34.2M233.6 167.3h1.6" stroke-width="0.8" stroke="#555"/>
<path d="M32.6 158.3H34.2M233.6 158.3h1.6" stroke-width="0.8" stroke="#555"/>
<path d="M32.6 149.3H34.2M233.6 149.3h1.6" stroke-width="0.8" stroke="#555"/>
<path d="M31.1 140.2H34.2M233.6 140.2h3.1"/>
<path d="M32.6 131.2H34.2M233.6 131.2h1.6" stroke-width="0.8" stroke="#555"/>
<path d="M32.6 122.2H34.2M233.6 122.2h1.6" stroke-width="0.8" stroke="#555"/>
<path d="M32.6 113.1H34.2M233.6 113.1h1.6" stroke-width="0.8" stroke="#555"/>
<path d="M31.1 104.1H34.2M233.6 104.1h3.1"/>
<path d="M32.6 95.0H34.2M233.6 95.0h1.6" stroke-width="0.8" stroke="#555"/>
<path d="M32.6 86.0H34.2M233.6 86.0h1.6" stroke-width="0.8" stroke="#555"/>
<path d="M32.6 77.0H34.2M233.6 77.0h1.6" stroke-width="0.8" stroke="#555"/>
<path d="M31.1 67.9H34.2M233.6 67.9h3.1"/>
<path d="M32.6 58.9H34.2M233.6 58.9h1.6" stroke-width="0.8" stroke="#555"/>
<path d="M32.6 49.9H34.2M233.6 49.9h1.6" stroke-width="0.8" stroke="#555"/>
<path d="M32.6 40.8H34.2M233.6 40.8h1.6" stroke-width="0.8" stroke="#555"/>
<path d="M31.1 31.8H34.2M233.6 31.8h3.1"/>
<path d="M32.6 22.8H34.2M233.6 22.8h1.6" stroke-width="0.8" stroke="#555"/>
<path d="M31.6 13.7H34.2M233.6 13.7h2.6"/>
<path d="M34.5 212.5v2.0" stroke-width="0.8" stroke="#555"/>
<path d="M43.6 212.5v2.0" stroke-width="0.8" stroke="#555"/>
<path d="M52.6 212.5v2.0" stroke-width="0.8" stroke="#555"/>
<path d="M61.7 212.5v3.4"/>
<path d="M70.8 212.5v2.0" stroke-width="0.8" stroke="#555"/>
<path d="M79.8 212.5v2.0" stroke-width="0.8" stroke="#555"/>
<path d="M88.8 212.5v2.0" stroke-width="0.8" stroke="#555"/>
<path d="M97.9 212.5v3.4"/>
<path d="M106.9 212.5v2.0" stroke-width="0.8" stroke="#555"/>
<path d="M116.0 212.5v2.0" stroke-width="0.8" stroke="#555"/>
<path d="M125.0 212.5v2.0" stroke-width="0.8" stroke="#555"/>
<path d="M134.1 212.5v3.4"/>
<path d="M143.2 212.5v2.0" stroke-width="0.8" stroke="#555"/>
<path d="M152.2 212.5v2.0" stroke-width="0.8" stroke="#555"/>
<path d="M161.2 212.5v2.0" stroke-width="0.8" stroke="#555"/>
<path d="M170.3 212.5v3.4"/>
<path d="M179.3 212.5v2.0" stroke-width="0.8" stroke="#555"/>
<path d="M188.4 212.5v2.0" stroke-width="0.8" stroke="#555"/>
<path d="M197.4 212.5v2.0" stroke-width="0.8" stroke="#555"/>
<path d="M206.5 212.5v3.4"/>
<path d="M215.6 212.5v2.0" stroke-width="0.8" stroke="#555"/>
<path d="M224.6 212.5v2.0" stroke-width="0.8" stroke="#555"/>
<path d="M233.6 212.5v2.0" stroke-width="0.8" stroke="#555"/>
</g>
<g font-size="9.3" stroke="#1c1c1c" stroke-width="0.28">
<text transform="translate(29.2 216.1) scale(0.98 1.07)" text-anchor="end">0</text>
<text transform="translate(238.8 216.1) scale(0.98 1.07)">0</text>
<text transform="translate(29.2 179.9) scale(0.98 1.07)" text-anchor="end">20</text>
<text transform="translate(238.8 179.9) scale(0.98 1.07)">20</text>
<text transform="translate(29.2 143.8) scale(0.98 1.07)" text-anchor="end">40</text>
<text transform="translate(238.8 143.8) scale(0.98 1.07)">40</text>
<text transform="translate(29.2 107.6) scale(0.98 1.07)" text-anchor="end">60</text>
<text transform="translate(238.8 107.6) scale(0.98 1.07)">60</text>
<text transform="translate(29.2 71.5) scale(0.98 1.07)" text-anchor="end">80</text>
<text transform="translate(238.8 71.5) scale(0.98 1.07)">80</text>
<text transform="translate(29.2 35.4) scale(0.98 1.07)" text-anchor="end">100</text>
<text transform="translate(238.8 35.4) scale(0.98 1.07)">100</text>
<text transform="translate(61.7 225.8) scale(0.98 1.07)" text-anchor="middle">-40</text>
<text transform="translate(97.9 225.8) scale(0.98 1.07)" text-anchor="middle">-20</text>
<text transform="translate(134.1 225.8) scale(0.98 1.07)" text-anchor="middle">0</text>
<text transform="translate(170.3 225.8) scale(0.98 1.07)" text-anchor="middle">20</text>
<text transform="translate(206.5 225.8) scale(0.98 1.07)" text-anchor="middle">40</text>
</g>
<text x="7" y="15.5" font-size="10.5">a)</text>
<text x="270.5" y="15.4" font-size="10.5">b)</text>
<text transform="translate(15.2 112.8) rotate(-90)" text-anchor="middle" font-size="10.35" font-weight="bold">y [mm]</text>
<text transform="translate(260.2 113) rotate(-90)" text-anchor="middle" font-size="10.35" font-weight="bold">y [mm]</text>
<text x="134" y="235.8" text-anchor="middle" font-size="10.35" font-weight="bold">x [mm]</text>
<g fill="#d1d1d1">
<rect x="315.1" y="155.1" width="7.3" height="5.3"/>
<rect x="325.4" y="157.8" width="7.3" height="2.6"/>
<rect x="335.7" y="156.8" width="7.3" height="3.6"/>
<rect x="346.0" y="149.5" width="7.3" height="10.9"/>
<rect x="356.3" y="115.8" width="7.3" height="44.6"/>
<rect x="366.6" y="39.5" width="7.3" height="120.9"/>
<rect x="376.9" y="145.3" width="7.3" height="15.1"/>
<rect x="387.2" y="158.2" width="7.3" height="2.2"/>
</g>
<path d="M334.2 160.6 L335.2 160.6 L336.3 160.6 L337.3 160.6 L338.3 160.6 L339.4 160.6 L340.4 160.5 L341.4 160.5 L342.4 160.4 L343.5 160.3 L344.5 160.1 L345.5 159.7 L346.6 159.3 L347.6 158.5 L348.6 157.5 L349.7 156.1 L350.7 154.1 L351.7 151.5 L352.7 148.1 L353.8 143.7 L354.8 138.2 L355.8 131.6 L356.9 123.8 L357.9 114.8 L358.9 104.8 L359.9 93.9 L361.0 82.6 L362.0 71.1 L363.0 60.1 L364.1 50.0 L365.1 41.3 L366.1 34.6 L367.2 30.1 L368.2 28.2 L369.2 29.0 L370.2 32.5 L371.3 38.4 L372.3 46.3 L373.3 55.9 L374.4 66.7 L375.4 78.0 L376.4 89.4 L377.5 100.5 L378.5 110.9 L379.5 120.3 L380.6 128.6 L381.6 135.7 L382.6 141.6 L383.6 146.4 L384.7 150.2 L385.7 153.2 L386.7 155.4 L387.8 157.0 L388.8 158.2 L389.8 159.0 L390.9 159.6 L391.9 159.9 L392.9 160.2 L393.9 160.4 L395.0 160.5 L396.0 160.5 L397.0 160.6 L398.1 160.6 L399.1 160.6 L400.1 160.6 L401.2 160.6 L402.2 160.6 L403.2 160.6 L404.2 160.6 L405.3 160.6 L406.3 160.6" stroke="#383838" stroke-width="0.9" fill="none"/>
<path d="M350.5 160.0 L354.3 158.5 L356.5 155.4 L360.4 144.0 L363.0 128.0 L365.6 110.0 L368.5 85.0 L371.2 60.0 L371.9 51.0 L373.9 36.7 L376.0 28.0 L378.0 22.3 L381.0 17.2 L386.0 13.9 L392.0 13.7" stroke="#222" stroke-width="1.1" stroke-dasharray="3 2.2" fill="none"/>
<path d="M392 13.7H509" stroke="#7a7a7a" stroke-width="1" stroke-dasharray="3 3" fill="none"/>
<g stroke="#1c1c1c" stroke-width="1.25" fill="none">
<path d="M303.2 12.9V161M509.7 13V161M302.6 160.4H510.3"/>
<path d="M299.8 160.6H303.2"/>
<path d="M301.9 158.5H303.2" stroke-width="0.7" stroke="#666"/>
<path d="M301.9 156.4H303.2" stroke-width="0.7" stroke="#666"/>
<path d="M301.9 154.3H303.2" stroke-width="0.7" stroke="#666"/>
<path d="M301.9 152.2H303.2" stroke-width="0.7" stroke="#666"/>
<path d="M301.9 150.1H303.2" stroke-width="0.7" stroke="#666"/>
<path d="M301.9 148.0H303.2" stroke-width="0.7" stroke="#666"/>
<path d="M301.9 145.9H303.2" stroke-width="0.7" stroke="#666"/>
<path d="M301.9 143.8H303.2" stroke-width="0.7" stroke="#666"/>
<path d="M301.9 141.7H303.2" stroke-width="0.7" stroke="#666"/>
<path d="M299.8 139.6H303.2"/>
<path d="M301.9 137.5H303.2" stroke-width="0.7" stroke="#666"/>
<path d="M301.9 135.4H303.2" stroke-width="0.7" stroke="#666"/>
<path d="M301.9 133.3H303.2" stroke-width="0.7" stroke="#666"/>
<path d="M301.9 131.2H303.2" stroke-width="0.7" stroke="#666"/>
<path d="M301.9 129.1H303.2" stroke-width="0.7" stroke="#666"/>
<path d="M301.9 127.0H303.2" stroke-width="0.7" stroke="#666"/>
<path d="M301.9 124.9H303.2" stroke-width="0.7" stroke="#666"/>
<path d="M301.9 122.8H303.2" stroke-width="0.7" stroke="#666"/>
<path d="M301.9 120.7H303.2" stroke-width="0.7" stroke="#666"/>
<path d="M299.8 118.6H303.2"/>
<path d="M301.9 116.5H303.2" stroke-width="0.7" stroke="#666"/>
<path d="M301.9 114.4H303.2" stroke-width="0.7" stroke="#666"/>
<path d="M301.9 112.3H303.2" stroke-width="0.7" stroke="#666"/>
<path d="M301.9 110.2H303.2" stroke-width="0.7" stroke="#666"/>
<path d="M301.9 108.0H303.2" stroke-width="0.7" stroke="#666"/>
<path d="M301.9 105.9H303.2" stroke-width="0.7" stroke="#666"/>
<path d="M301.9 103.8H303.2" stroke-width="0.7" stroke="#666"/>
<path d="M301.9 101.7H303.2" stroke-width="0.7" stroke="#666"/>
<path d="M301.9 99.6H303.2" stroke-width="0.7" stroke="#666"/>
<path d="M299.8 97.5H303.2"/>
<path d="M301.9 95.4H303.2" stroke-width="0.7" stroke="#666"/>
<path d="M301.9 93.3H303.2" stroke-width="0.7" stroke="#666"/>
<path d="M301.9 91.2H303.2" stroke-width="0.7" stroke="#666"/>
<path d="M301.9 89.1H303.2" stroke-width="0.7" stroke="#666"/>
<path d="M301.9 87.0H303.2" stroke-width="0.7" stroke="#666"/>
<path d="M301.9 84.9H303.2" stroke-width="0.7" stroke="#666"/>
<path d="M301.9 82.8H303.2" stroke-width="0.7" stroke="#666"/>
<path d="M301.9 80.7H303.2" stroke-width="0.7" stroke="#666"/>
<path d="M301.9 78.6H303.2" stroke-width="0.7" stroke="#666"/>
<path d="M299.8 76.5H303.2"/>
<path d="M301.9 74.4H303.2" stroke-width="0.7" stroke="#666"/>
<path d="M301.9 72.3H303.2" stroke-width="0.7" stroke="#666"/>
<path d="M301.9 70.2H303.2" stroke-width="0.7" stroke="#666"/>
<path d="M301.9 68.1H303.2" stroke-width="0.7" stroke="#666"/>
<path d="M301.9 66.0H303.2" stroke-width="0.7" stroke="#666"/>
<path d="M301.9 63.9H303.2" stroke-width="0.7" stroke="#666"/>
<path d="M301.9 61.8H303.2" stroke-width="0.7" stroke="#666"/>
<path d="M301.9 59.7H303.2" stroke-width="0.7" stroke="#666"/>
<path d="M301.9 57.6H303.2" stroke-width="0.7" stroke="#666"/>
<path d="M299.8 55.5H303.2"/>
<path d="M301.9 53.4H303.2" stroke-width="0.7" stroke="#666"/>
<path d="M301.9 51.3H303.2" stroke-width="0.7" stroke="#666"/>
<path d="M301.9 49.2H303.2" stroke-width="0.7" stroke="#666"/>
<path d="M301.9 47.1H303.2" stroke-width="0.7" stroke="#666"/>
<path d="M301.9 45.0H303.2" stroke-width="0.7" stroke="#666"/>
<path d="M301.9 42.9H303.2" stroke-width="0.7" stroke="#666"/>
<path d="M301.9 40.8H303.2" stroke-width="0.7" stroke="#666"/>
<path d="M301.9 38.7H303.2" stroke-width="0.7" stroke="#666"/>
<path d="M301.9 36.6H303.2" stroke-width="0.7" stroke="#666"/>
<path d="M299.8 34.5H303.2"/>
<path d="M301.9 32.4H303.2" stroke-width="0.7" stroke="#666"/>
<path d="M301.9 30.3H303.2" stroke-width="0.7" stroke="#666"/>
<path d="M301.9 28.2H303.2" stroke-width="0.7" stroke="#666"/>
<path d="M301.9 26.1H303.2" stroke-width="0.7" stroke="#666"/>
<path d="M301.9 24.0H303.2" stroke-width="0.7" stroke="#666"/>
<path d="M301.9 21.9H303.2" stroke-width="0.7" stroke="#666"/>
<path d="M301.9 19.8H303.2" stroke-width="0.7" stroke="#666"/>
<path d="M301.9 17.7H303.2" stroke-width="0.7" stroke="#666"/>
<path d="M301.9 15.6H303.2" stroke-width="0.7" stroke="#666"/>
<path d="M299.8 13.5H303.2"/>
<path d="M509.7 160.6h3.4"/>
<path d="M509.7 154.7h1.6" stroke-width="0.8" stroke="#555"/>
<path d="M509.7 148.8h1.6" stroke-width="0.8" stroke="#555"/>
<path d="M509.7 143.0h1.6" stroke-width="0.8" stroke="#555"/>
<path d="M509.7 137.1h1.6" stroke-width="0.8" stroke="#555"/>
<path d="M509.7 131.2h3.4"/>
<path d="M509.7 125.3h1.6" stroke-width="0.8" stroke="#555"/>
<path d="M509.7 119.4h1.6" stroke-width="0.8" stroke="#555"/>
<path d="M509.7 113.6h1.6" stroke-width="0.8" stroke="#555"/>
<path d="M509.7 107.7h1.6" stroke-width="0.8" stroke="#555"/>
<path d="M509.7 101.8h3.4"/>
<path d="M509.7 95.9h1.6" stroke-width="0.8" stroke="#555"/>
<path d="M509.7 90.0h1.6" stroke-width="0.8" stroke="#555"/>
<path d="M509.7 84.2h1.6" stroke-width="0.8" stroke="#555"/>
<path d="M509.7 78.3h1.6" stroke-width="0.8" stroke="#555"/>
<path d="M509.7 72.4h3.4"/>
<path d="M509.7 66.5h1.6" stroke-width="0.8" stroke="#555"/>
<path d="M509.7 60.6h1.6" stroke-width="0.8" stroke="#555"/>
<path d="M509.7 54.8h1.6" stroke-width="0.8" stroke="#555"/>
<path d="M509.7 48.9h1.6" stroke-width="0.8" stroke="#555"/>
<path d="M509.7 43.0h3.4"/>
<path d="M509.7 37.1h1.6" stroke-width="0.8" stroke="#555"/>
<path d="M509.7 31.2h1.6" stroke-width="0.8" stroke="#555"/>
<path d="M509.7 25.4h1.6" stroke-width="0.8" stroke="#555"/>
<path d="M509.7 19.5h1.6" stroke-width="0.8" stroke="#555"/>
<path d="M509.7 13.6h3.4"/>
<path d="M303.3 160.4v3.4"/>
<path d="M313.6 160.4v1.8" stroke-width="0.8" stroke="#555"/>
<path d="M323.9 160.4v1.8" stroke-width="0.8" stroke="#555"/>
<path d="M334.2 160.4v1.8" stroke-width="0.8" stroke="#555"/>
<path d="M344.5 160.4v1.8" stroke-width="0.8" stroke="#555"/>
<path d="M354.8 160.4v3.4"/>
<path d="M365.1 160.4v1.8" stroke-width="0.8" stroke="#555"/>
<path d="M375.4 160.4v1.8" stroke-width="0.8" stroke="#555"/>
<path d="M385.7 160.4v1.8" stroke-width="0.8" stroke="#555"/>
<path d="M396.0 160.4v1.8" stroke-width="0.8" stroke="#555"/>
<path d="M406.3 160.4v3.4"/>
<path d="M416.6 160.4v1.8" stroke-width="0.8" stroke="#555"/>
<path d="M426.9 160.4v1.8" stroke-width="0.8" stroke="#555"/>
<path d="M437.2 160.4v1.8" stroke-width="0.8" stroke="#555"/>
<path d="M447.5 160.4v1.8" stroke-width="0.8" stroke="#555"/>
<path d="M457.8 160.4v3.4"/>
<path d="M468.1 160.4v1.8" stroke-width="0.8" stroke="#555"/>
<path d="M478.4 160.4v1.8" stroke-width="0.8" stroke="#555"/>
<path d="M488.7 160.4v1.8" stroke-width="0.8" stroke="#555"/>
<path d="M499.0 160.4v1.8" stroke-width="0.8" stroke="#555"/>
<path d="M509.3 160.4v3.4"/>
</g>
<g font-size="9.3" stroke="#1c1c1c" stroke-width="0.28">
<text transform="translate(298.1 163.8) scale(0.98 1.07)" text-anchor="end">0</text>
<text transform="translate(298.1 142.8) scale(0.98 1.07)" text-anchor="end">0.1</text>
<text transform="translate(298.1 121.8) scale(0.98 1.07)" text-anchor="end">0.2</text>
<text transform="translate(298.1 100.8) scale(0.98 1.07)" text-anchor="end">0.3</text>
<text transform="translate(298.1 79.8) scale(0.98 1.07)" text-anchor="end">0.4</text>
<text transform="translate(298.1 58.8) scale(0.98 1.07)" text-anchor="end">0.5</text>
<text transform="translate(298.1 37.7) scale(0.98 1.07)" text-anchor="end">0.6</text>
<text transform="translate(298.1 16.7) scale(0.98 1.07)" text-anchor="end">0.7</text>
<text transform="translate(514.7 163.4) scale(0.98 1.07)">0</text>
<text transform="translate(514.7 134.0) scale(0.98 1.07)">0.2</text>
<text transform="translate(514.7 104.6) scale(0.98 1.07)">0.4</text>
<text transform="translate(514.7 75.2) scale(0.98 1.07)">0.6</text>
<text transform="translate(514.7 45.8) scale(0.98 1.07)">0.8</text>
<text transform="translate(514.7 16.4) scale(0.98 1.07)">1</text>
<text transform="translate(303.3 173.1) scale(0.98 1.07)" text-anchor="middle">0</text>
<text transform="translate(354.8 173.1) scale(0.98 1.07)" text-anchor="middle">25</text>
<text transform="translate(406.3 173.1) scale(0.98 1.07)" text-anchor="middle">50</text>
<text transform="translate(457.8 173.1) scale(0.98 1.07)" text-anchor="middle">75</text>
<text transform="translate(509.3 173.1) scale(0.98 1.07)" text-anchor="middle">100</text>
</g>
<text transform="translate(279.3 86.1) rotate(-90)" text-anchor="middle" font-size="10.3" stroke="#111" stroke-width="0.18" textLength="85" lengthAdjust="spacingAndGlyphs">distribution density</text>
<text transform="translate(541.8 86.6) rotate(-90)" text-anchor="middle" font-size="10.3" stroke="#111" stroke-width="0.18" textLength="101.4" lengthAdjust="spacingAndGlyphs">cumulative distribution</text>
<text x="331.6" y="182.1" font-size="9.9" stroke="#111" stroke-width="0.18" textLength="120.4" lengthAdjust="spacingAndGlyphs">dimensionless mixing time</text>
<text x="455" y="182.1" font-size="9.9" font-weight="bold">N</text>
<text x="462.2" y="184.8" font-size="6.2" font-weight="bold">M</text>
<text x="471.6" y="182.1" font-size="9.9" font-weight="bold">[-]</text>
<rect x="313.20" y="206.5" width="11.01" height="12.7" fill="#eaeaf7"/>
<rect x="323.91" y="206.5" width="11.01" height="12.7" fill="#e1e2f3"/>
<rect x="334.63" y="206.5" width="11.01" height="12.7" fill="#d8daf0"/>
<rect x="345.34" y="206.5" width="11.01" height="12.7" fill="#cfd4ed"/>
<rect x="356.06" y="206.5" width="11.01" height="12.7" fill="#c6ceea"/>
<rect x="366.77" y="206.5" width="11.01" height="12.7" fill="#bcc9e9"/>
<rect x="377.49" y="206.5" width="11.01" height="12.7" fill="#b2c4e7"/>
<rect x="388.20" y="206.5" width="11.01" height="12.7" fill="#a7c1e5"/>
<rect x="398.91" y="206.5" width="11.01" height="12.7" fill="#9cbde4"/>
<rect x="409.63" y="206.5" width="11.01" height="12.7" fill="#8eb7e1"/>
<rect x="420.34" y="206.5" width="11.01" height="12.7" fill="#80b1de"/>
<rect x="431.06" y="206.5" width="11.01" height="12.7" fill="#70aadb"/>
<rect x="441.77" y="206.5" width="11.01" height="12.7" fill="#61a3d7"/>
<rect x="452.49" y="206.5" width="11.01" height="12.7" fill="#529bd3"/>
<rect x="463.20" y="206.5" width="11.01" height="12.7" fill="#4393cf"/>
<rect x="473.91" y="206.5" width="11.01" height="12.7" fill="#368bcb"/>
<rect x="484.63" y="206.5" width="11.01" height="12.7" fill="#2a84c6"/>
<rect x="495.34" y="206.5" width="11.01" height="12.7" fill="#207abb"/>
<rect x="506.06" y="206.5" width="11.01" height="12.7" fill="#176fae"/>
<rect x="516.77" y="206.5" width="11.01" height="12.7" fill="#11629e"/>
<rect x="527.49" y="206.5" width="11.01" height="12.7" fill="#0c558e"/>
<g stroke="#5a6578" stroke-width="0.55" fill="none">
<rect x="313.2" y="206.5" width="224.6" height="12.7" stroke="#8a8f9c"/>
<path d="M319.5 206.5v12.7"/>
<path d="M340.8 206.5v12.7"/>
<path d="M362.1 206.5v12.7"/>
<path d="M383.3 206.5v12.7"/>
<path d="M404.6 206.5v12.7"/>
<path d="M425.9 206.5v12.7"/>
<path d="M447.2 206.5v12.7"/>
<path d="M468.5 206.5v12.7"/>
<path d="M489.7 206.5v12.7"/>
<path d="M511.0 206.5v12.7"/>
<path d="M532.3 206.5v12.7"/>
</g>
<g font-size="8.3">
<text transform="translate(320.1 201.3) scale(1 1.0)" text-anchor="middle">0.50</text>
<text transform="translate(341.4 201.3) scale(1 1.0)" text-anchor="middle">0.45</text>
<text transform="translate(362.7 201.3) scale(1 1.0)" text-anchor="middle">0.40</text>
<text transform="translate(383.9 201.3) scale(1 1.0)" text-anchor="middle">0.35</text>
<text transform="translate(405.2 201.3) scale(1 1.0)" text-anchor="middle">0.30</text>
<text transform="translate(426.5 201.3) scale(1 1.0)" text-anchor="middle">0.25</text>
<text transform="translate(447.8 201.3) scale(1 1.0)" text-anchor="middle">0.20</text>
<text transform="translate(469.1 201.3) scale(1 1.0)" text-anchor="middle">0.15</text>
<text transform="translate(490.3 201.3) scale(1 1.0)" text-anchor="middle">0.10</text>
<text transform="translate(511.6 201.3) scale(1 1.0)" text-anchor="middle">0.05</text>
<text transform="translate(532.9 201.3) scale(1 1.0)" text-anchor="middle">0.00</text>
</g>
<g font-size="8.3">
<text transform="translate(319.3 229.0) scale(1 1.0)" text-anchor="middle">0</text>
<text transform="translate(340.6 229.0) scale(1 1.0)" text-anchor="middle">10</text>
<text transform="translate(361.9 229.0) scale(1 1.0)" text-anchor="middle">20</text>
<text transform="translate(383.1 229.0) scale(1 1.0)" text-anchor="middle">30</text>
<text transform="translate(404.4 229.0) scale(1 1.0)" text-anchor="middle">40</text>
<text transform="translate(425.7 229.0) scale(1 1.0)" text-anchor="middle">50</text>
<text transform="translate(447.0 229.0) scale(1 1.0)" text-anchor="middle">60</text>
<text transform="translate(468.3 229.0) scale(1 1.0)" text-anchor="middle">70</text>
<text transform="translate(489.5 229.0) scale(1 1.0)" text-anchor="middle">80</text>
<text transform="translate(510.8 229.0) scale(1 1.0)" text-anchor="middle">90</text>
<text transform="translate(532.1 229.0) scale(1 1.0)" text-anchor="middle">100</text>
</g>
<text transform="translate(272.9 200.6) scale(1.06 1)" font-size="9.5" font-weight="bold">v (m/s)</text>
<text x="276.2" y="229.6" font-size="10.4" font-weight="bold">N</text>
<text x="284" y="232.5" font-size="6.2" font-weight="bold">M</text>
<text x="291.7" y="229.6" font-size="10.4" font-weight="bold">[-]</text>
</svg></body></html>
